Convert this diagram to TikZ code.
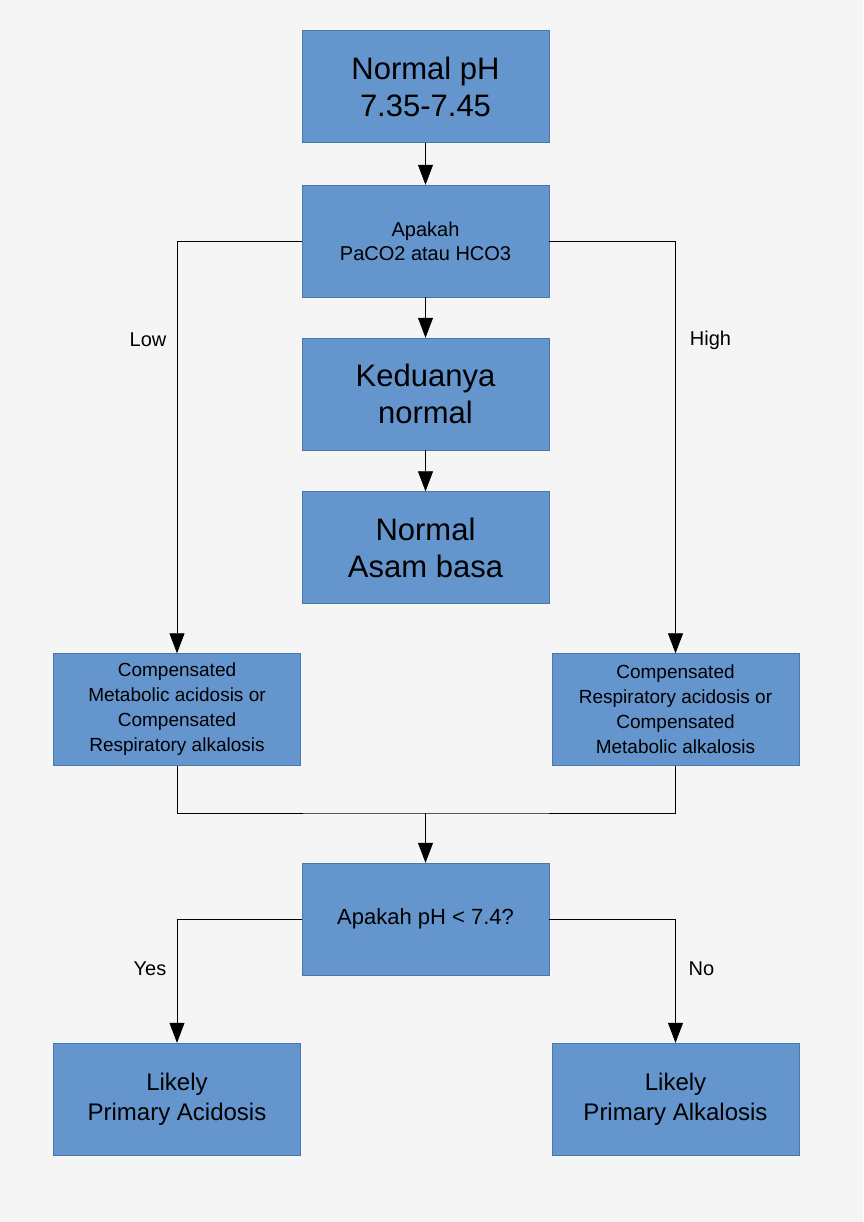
\documentclass[tikz,border=0pt]{standalone}
\usepackage{fontspec}
\setmainfont{Liberation Sans}
\usetikzlibrary{arrows.meta}
\definecolor{boxfill}{HTML}{6495CD}
\definecolor{boxline}{HTML}{4A76A8}
\definecolor{bg}{HTML}{F5F5F5}
\begin{document}
\begin{tikzpicture}[x=1pt,y=-1pt,
  box/.style={draw=boxline,fill=boxfill,minimum width=247pt,minimum height=112pt,align=center,inner sep=2pt},
  big/.style={box,font=\fontsize{31}{37}\selectfont},
  mid/.style={box,font=\fontsize{20}{24}\selectfont},
  small/.style={box,font=\fontsize{19}{25}\selectfont},
  lik/.style={box,font=\fontsize{24}{30}\selectfont},
  con/.style={draw=black,line width=0.7pt},
  arr/.style={con,-{Triangle[length=20pt,width=15pt]}},
  lab/.style={font=\fontsize{20}{24}\selectfont}]
\fill[bg] (0,0) rectangle (863,1222);
\useasboundingbox (0,0) rectangle (863,1222);
\node[big] (a) at (425.5,86.5) {Normal pH\\7.35-7.45};
\node[mid] (b) at (425.5,241) {Apakah\\PaCO2 atau HCO3};
\node[big] (c) at (425.5,394) {Keduanya\\normal};
\node[big] (d) at (425.5,547.5) {Normal\\Asam basa};
\node[small] (l) at (177,709.5) {Compensated\\Metabolic acidosis or\\Compensated\\Respiratory alkalosis};
\node[small] (r) at (675.5,709.5) {Compensated\\Respiratory acidosis or\\Compensated\\Metabolic alkalosis};
\node[mid,font=\fontsize{22}{26}\selectfont] (p) at (425.5,919) {Apakah pH < 7.4?};
\node[lik] (yl) at (177,1099) {Likely\\Primary Acidosis};
\node[lik] (yr) at (675.5,1099) {Likely\\Primary Alkalosis};
\coordinate (j) at (425.5,813);
\draw[arr] (a) -- (b);
\draw[arr] (b) -- (c);
\draw[arr] (c) -- (d);
\draw[arr] (b.west) -| node[lab,pos=0.62,fill=bg,inner sep=1pt,xshift=-29pt]{Low} (l.north);
\draw[arr] (b.east) -| node[lab,pos=0.62,fill=bg,inner sep=1pt,xshift=35pt]{High} (r.north);
\draw[con] (l.south) |- (j) -| (r.south);
\draw[arr] (j) -- (p);
\draw[arr] (p.west) -| node[lab,pos=0.7,xshift=-27pt]{Yes} (yl.north);
\draw[arr] (p.east) -| node[lab,pos=0.7,xshift=26pt]{No} (yr.north);
\end{tikzpicture}
\end{document}
